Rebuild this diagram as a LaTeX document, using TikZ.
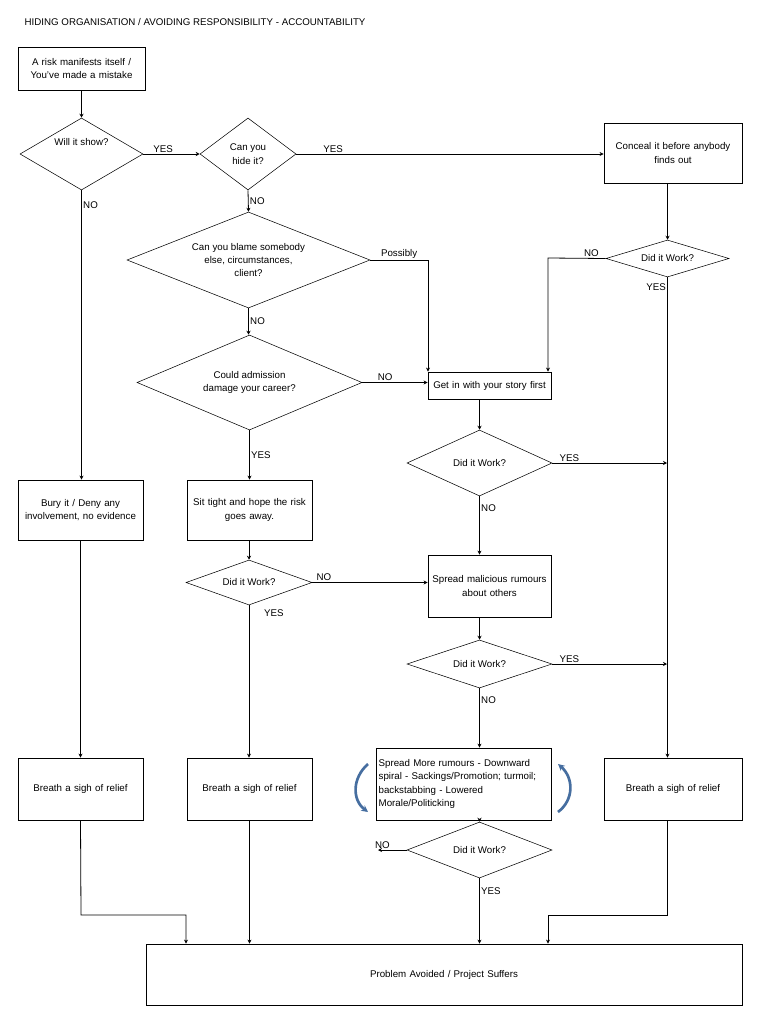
\documentclass[tikz,border=0pt]{standalone}
\usepackage{fontspec}
\setmainfont{Liberation Sans}
\usetikzlibrary{shapes.geometric,arrows.meta}
\begin{document}
\begin{tikzpicture}[x=0.75pt,y=-0.75pt,
  every node/.style={font=\fontsize{7.3}{10}\selectfont},
  lab/.style={inner sep=1pt},
  ar/.style={-{Stealth[length=3pt,width=3pt]},semithick}]
\useasboundingbox (0,0) rectangle (768,1024);
\node[anchor=west] (title) at (20,22) {HIDING ORGANISATION / AVOIDING RESPONSIBILITY - ACCOUNTABILITY};
\newcommand{\bx}[6]{\node[draw,semithick,minimum width={(#4-#2)*0.75pt},minimum height={(#5-#3)*0.75pt},inner sep=2pt,align=center,text width={(#4-#2)*0.75pt-4pt}] (#1) at ({(#2+#4)/2},{(#3+#5)/2}) {#6};}
\newcommand{\dm}[6]{\pgfmathsetmacro{\myasp}{(#4-#2)/(#5-#3)}\node[draw,diamond,minimum width={(#4-#2)*0.75pt},minimum height={(#5-#3)*0.75pt},inner sep=0,align=center,shape aspect=\myasp] (#1) at ({(#2+#4)/2},{(#3+#5)/2}) {#6};}
\bx{start}{18}{47}{145}{90}{A risk manifests itself /\\You've made a mistake}
\dm{d1}{20}{118}{143}{190}{Will it show?\\[8pt]}
\dm{d2}{200}{118}{296}{190}{Can you\\hide it?}
\bx{conceal}{604}{123}{742}{183}{Conceal it before anybody\\finds out}
\dm{d3}{127}{212}{370}{308}{Can you blame somebody\\else, circumstances,\\client?}
\dm{d4}{137}{335}{362}{430}{Could admission\\damage your career?}
\bx{getin}{428}{372}{551}{399}{Get in with your story first}
\dm{d5}{606}{240}{729}{277}{Did it Work?}
\dm{d6}{407}{430}{552}{496}{Did it Work?}
\bx{bury}{18}{480}{143}{540}{Bury it / Deny any\\involvement, no evidence}
\bx{sit}{187}{480}{312}{540}{Sit tight and hope the risk\\goes away.}
\dm{d7}{186}{560}{312}{605}{Did it Work?}
\bx{spread}{428}{555}{551}{617}{Spread malicious rumours\\about others}
\dm{d8}{407}{640}{552}{688}{Did it Work?}
\bx{b1}{18}{758}{143}{820}{Breath a sigh of relief}
\bx{b2}{187}{758}{312}{820}{Breath a sigh of relief}
\node[draw,semithick,minimum width={175*0.75pt},minimum height={72*0.75pt},text width={175*0.75pt-4pt},inner sep=2pt,align=left] (more) at (463.5,784) {Spread More rumours - Downward\\spiral - Sackings/Promotion; turmoil;\\backstabbing - Lowered\\Morale/Politicking};
\bx{b4}{604}{758}{742}{820}{Breath a sigh of relief}
\dm{d9}{407}{822}{552}{878}{Did it Work?}
\bx{final}{146}{944}{742}{1005}{Problem Avoided / Project Suffers}
\coordinate (c1) at (81,915); \coordinate (c2) at (186,915);
\coordinate (c3) at (667,915); \coordinate (c4) at (548,915);
\coordinate (p1) at (428,260); \coordinate (p2) at (548,258);
\coordinate (y6) at (667,463); \coordinate (y8) at (667,664);
\coordinate (n9) at (378,850);
\draw[ar] (start.south-|d1.north) -- (d1.north);
\draw[ar] (d1.east) -- node[lab,above,pos=0.35]{YES} (d2.west);
\draw[ar] (d2.east) -- node[lab,above,pos=0.12]{YES} (d2.east-|conceal.west);
\draw[ar] (d1.south) -- node[lab,right,pos=0.05]{NO} (d1.south|-bury.north);
\draw[ar] (d2.south) -- node[lab,right]{NO} (d3.north);
\draw[ar] (d3.south) -- node[lab,right]{NO} (d3.south|-d4.north);
\draw[ar] (d3.east) -- node[lab,above,pos=0.5]{Possibly} (p1) -- (p1|-getin.north);
\draw[ar] (d4.east) -- node[lab,above,pos=0.35]{NO} (d4.east-|getin.west);
\draw[ar] (d5.north|-conceal.south) -- (d5.north);
\draw[ar] (d5.west) -- node[lab,above,pos=0.25]{NO} (p2) -- (p2|-getin.north);
\draw[ar] (d5.south) -- node[lab,below left,pos=0.01]{YES} (d5.south|-b4.north);
\draw[ar] (d6.north|-getin.south) -- (d6.north);
\draw[ar] (d6.east) -- node[lab,above,pos=0.15]{YES} (y6);
\draw[ar] (d6.south) -- node[lab,right,pos=0.2]{NO} (d6.south|-spread.north);
\draw[ar] (d4.south) -- node[lab,right]{YES} (d4.south|-sit.north);
\draw[ar] (d7.north|-sit.south) -- (d7.north);
\draw[ar] (d7.east) -- node[lab,above,pos=0.1]{NO} (d7.east-|spread.west);
\draw[ar] (d7.south) -- node[lab,right,pos=0.05,xshift=10pt]{YES} (d7.south|-b2.north);
\draw[ar] (d8.north|-spread.south) -- (d8.north);
\draw[ar] (d8.east) -- node[lab,above,pos=0.15]{YES} (y8);
\draw[ar] (d8.south) -- node[lab,right,pos=0.2]{NO} (d8.south|-more.north);
\draw[ar] (bury.south) -- (b1.north);
\draw[ar] (d9.north|-more.south) -- (d9.north);
\draw[ar] (d9.west) -- node[lab,above,pos=0.85]{NO} (n9);
\draw[ar] (d9.south) -- node[lab,right,pos=0.2]{YES} (final.north-|d9.south);
\draw[ar] (b1.south) -- (c1) -- (c2) -- (c2|-final.north);
\draw[ar] (b2.south) -- (b2.south|-final.north);
\draw[ar] (c3|-b4.south) -- (c3) -- (c4) -- (c4|-final.north);
\coordinate (l1) at (368,764); \coordinate (l2) at (368,812);
\coordinate (r1) at (558,812); \coordinate (r2) at (558,764);
\draw[-{Stealth[length=5pt,width=5pt]},line width=2pt,color={rgb,255:red,70;green,110;blue,160}] (l1) .. controls (352,778) and (352,800) .. (l2);
\draw[-{Stealth[length=5pt,width=5pt]},line width=2pt,color={rgb,255:red,70;green,110;blue,160}] (r1) .. controls (574,800) and (574,778) .. (r2);
\end{tikzpicture}
\end{document}
